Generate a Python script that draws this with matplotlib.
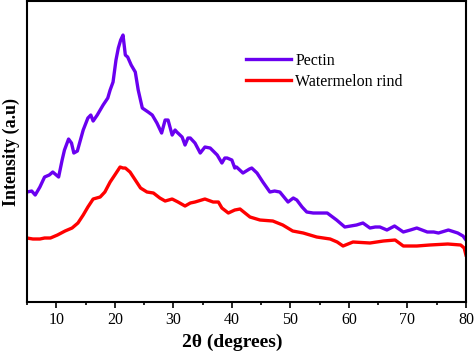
import matplotlib.pyplot as plt
from matplotlib.ticker import MultipleLocator

# 2theta (degrees) and intensity (a.u., arbitrary offset units)
pectin_x = [5.0, 5.8, 6.4, 7.2, 8.0, 8.8, 9.4, 10.0, 10.4, 11.0, 11.4, 12.1, 12.6, 13.0, 13.6,
            14.6, 15.4, 15.9, 16.3, 17.0, 18.0, 18.8, 19.2, 19.7, 20.2, 20.6, 21.0, 21.4, 21.8,
            22.2, 22.8, 23.5, 24.0, 24.7, 25.7, 26.4, 27.2, 27.6, 28.0, 28.6, 29.1, 29.8, 30.3,
            30.6, 31.5, 32.0, 32.5, 32.9, 33.7, 34.6, 35.4, 36.3, 37.5, 38.3, 38.8, 39.2, 40.0,
            40.5, 40.8, 41.9, 43.0, 43.4, 44.3, 45.3, 46.5, 47.3, 48.2, 49.6, 50.5, 51.1, 52.0,
            52.8, 53.9, 55.0, 56.3, 57.9, 59.3, 60.3, 61.3, 62.4, 63.6, 64.5, 65.3, 66.5, 67.8,
            69.3, 70.5, 71.6, 73.4, 74.5, 75.3, 77.0, 78.6, 79.5, 80.0]
pectin_py = [192, 191, 195, 187, 177, 175, 172, 175, 177, 160, 150, 139, 143, 153, 151,
             130, 118, 115, 121, 115, 105, 98, 90, 82, 60, 48, 40, 35, 55,
             57, 65, 72, 90, 108, 112, 115, 123, 128, 133, 120, 120, 135, 130,
             132, 137, 145, 138, 138, 143, 153, 147, 148, 155, 163, 158, 158, 160,
             168, 167, 173, 169, 168, 173, 182, 192, 191, 192, 202, 198, 200, 207,
             212, 213, 213, 213, 220, 227, 226, 225, 223, 228, 227, 227, 230, 226,
             232, 230, 228, 232, 232, 233, 230, 233, 236, 240]

rind_x = [5.0, 6.0, 7.2, 8.0, 9.0, 10.2, 11.5, 12.7, 13.7, 14.6, 15.4, 16.3, 17.5, 18.3, 19.2,
          20.0, 20.9, 21.4, 21.8, 22.6, 23.5, 24.4, 25.5, 26.6, 27.7, 28.6, 29.8, 30.8, 32.0,
          32.9, 33.7, 35.4, 36.8, 37.7, 38.3, 39.4, 40.5, 41.4, 43.1, 44.8, 47.0, 48.7, 50.4,
          52.2, 54.5, 56.8, 58.0, 59.0, 60.7, 63.6, 65.9, 67.9, 69.3, 71.6, 73.8, 76.9, 79.1,
          79.7, 80.0]
rind_py = [238, 239, 239, 238, 238, 235, 231, 228, 223, 215, 207, 199, 197, 192, 182,
           175, 167, 168, 168, 172, 180, 188, 192, 193, 198, 201, 199, 202, 206,
           203, 202, 199, 202, 202, 208, 213, 210, 209, 217, 220, 221, 225, 231,
           233, 237, 239, 242, 246, 242, 243, 241, 240, 246, 246, 245, 244, 245,
           248, 255]

pectin_y = [302 - v for v in pectin_py]
rind_y = [302 - v for v in rind_py]

plt.rcParams['font.family'] = 'Liberation Serif'

fig = plt.figure(figsize=(4.74, 3.53), dpi=100)
ax = fig.add_axes([0.057, 0.1445, 0.926, 0.8525])

ax.plot(pectin_x, pectin_y, color='#6a00f0', lw=2.4, label='Pectin')
ax.plot(rind_x, rind_y, color='#ff0000', lw=2.4, label='Watermelon rind')

ax.set_xlim(5, 80)
ax.set_ylim(0, 301)
ax.xaxis.set_major_locator(MultipleLocator(10))
ax.xaxis.set_minor_locator(MultipleLocator(5))
ax.tick_params(axis='x', which='major', direction='out', length=4, width=1.2, labelsize=11.5)
ax.tick_params(axis='x', which='minor', direction='out', length=2.5, width=1.2)
ax.set_yticks([])
for s in ax.spines.values():
    s.set_linewidth(1.5)

ax.set_xlabel('2θ (degrees)', fontsize=14, fontweight='bold')
ax.xaxis.set_label_coords(0.467, -0.105)
ax.set_ylabel('Intensity (a.u)', fontsize=13, fontweight='bold', labelpad=5)

ax.legend(loc='upper left', bbox_to_anchor=(0.466, 0.875), frameon=False, fontsize=11.5,
          handlelength=2.8, handletextpad=0.3, labelspacing=0.3)

fig.savefig('out.png', dpi=100)
